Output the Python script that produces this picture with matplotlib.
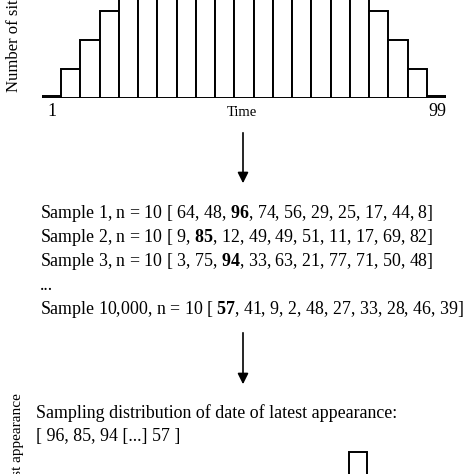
import matplotlib
matplotlib.use("Agg")
import matplotlib.pyplot as plt

plt.rcParams['font.family'] = ['Liberation Serif', 'DejaVu Serif']
plt.rcParams['mathtext.fontset'] = 'custom'
plt.rcParams['mathtext.rm'] = 'Liberation Serif'
plt.rcParams['mathtext.bf'] = 'Liberation Serif:bold'

# top histogram: number of sites per time bin (middle bars clipped at top)
site_counts = [0.2, 3, 6, 9, 12, 12, 12, 12, 12, 12, 12, 12, 12, 12, 12, 12, 12, 9, 6, 3, 0.2]
time_labels = ["1", "99"]
sample_lines = [
    r"Sample 1, n = 10 [ 64, 48, $\mathbf{96}$, 74, 56, 29, 25, 17, 44, 8]",
    r"Sample 2, n = 10 [ 9, $\mathbf{85}$, 12, 49, 49, 51, 11, 17, 69, 82]",
    r"Sample 3, n = 10 [ 3, 75, $\mathbf{94}$, 33, 63, 21, 77, 71, 50, 48]",
    "...",
    r"Sample 10,000, n = 10 [ $\mathbf{57}$, 41, 9, 2, 48, 27, 33, 28, 46, 39]",
]
dist_lines = ["Sampling distribution of date of latest appearance:", "[ 96, 85, 94 [...] 57 ]"]
latest_bins = [95]
latest_counts = [5]

W = H = 474
fig = plt.figure(figsize=(4.74, 4.74), dpi=100)

def fx(px): return px / W
def fy(py): return 1 - py / H

ax = fig.add_axes([fx(42), fy(98), fx(446 - 42), 98 / H])
n = len(site_counts)
ax.bar(range(n), site_counts, width=1.0, align='edge', facecolor='white', edgecolor='black', linewidth=1.4)
ax.set_xlim(0, n)
ax.set_ylim(0, 98 / 29 * 3)
ax.axis('off')
fig.text(fx(52), fy(111), time_labels[0], ha='center', va='center', fontsize=13)
fig.text(fx(437), fy(111), time_labels[1], ha='center', va='center', fontsize=13)
fig.text(fx(242), fy(113), "Time", ha='center', va='center', fontsize=10.5)
fig.text(fx(14), fy(92), "Number of sites", rotation=90, ha='center', va='bottom', fontsize=12)

arrow_kw = dict(arrowstyle='-|>', color='black', lw=1.2, mutation_scale=16)
fig.add_artist(matplotlib.patches.FancyArrowPatch((fx(243), fy(130)), (fx(243), fy(186)),
                                                   transform=fig.transFigure, **arrow_kw))
for i, line in enumerate(sample_lines):
    fig.text(fx(40), fy(213 + 24 * i), line, ha='left', va='center', fontsize=12.9)
fig.add_artist(matplotlib.patches.FancyArrowPatch((fx(243), fy(330)), (fx(243), fy(387)),
                                                   transform=fig.transFigure, **arrow_kw))
for i, line in enumerate(dist_lines):
    fig.text(fx(36), fy(413 + 24 * i), line, ha='left', va='center', fontsize=12.9)
fig.text(fx(17), fy(393), "Date of latest appearance", rotation=90, ha='center', va='top', fontsize=11)

ax2 = fig.add_axes([fx(42), fy(520), fx(446 - 42), (520 - 440) / H])
ax2.bar(latest_bins, latest_counts, width=5, align='edge', facecolor='white', edgecolor='black', linewidth=1.4)
ax2.set_ylim(0, 5 * 80 / 68)
ax2.set_xlim(95 - (349 - 42) / 18 * 5, 95 + (446 - 349) / 18 * 5)
ax2.axis('off')

fig.savefig("out.png", dpi=100, facecolor='white')
